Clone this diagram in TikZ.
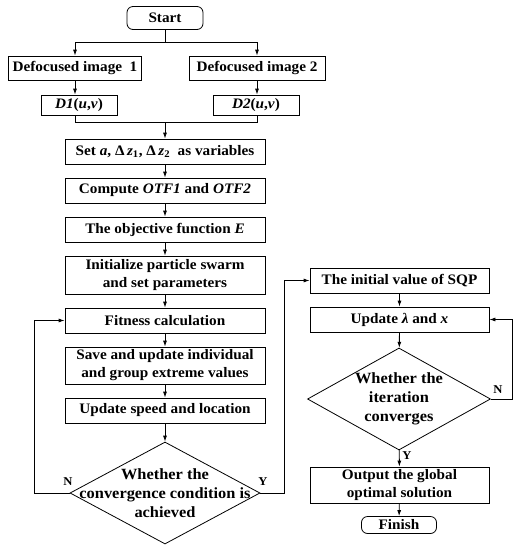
\documentclass[tikz,border=0pt]{standalone}
\usepackage{fontspec}
\setmainfont{Liberation Serif}[FakeStretch=1.05]
\usetikzlibrary{positioning, arrows.meta, shapes.geometric}

\tikzset{
  box/.style={draw, thick, inner sep=0pt, minimum height=25pt, align=center, font=\fontsize{14.5}{18}\selectfont\bfseries},
  roundbox/.style={box, rounded corners=6pt},
  decision/.style={draw, thick, diamond, inner sep=0pt, minimum width=190pt, minimum height=102pt},
  dtext/.style={align=center, font=\fontsize{15.6}{19}\selectfont\bfseries},
  flow/.style={thick, -{Latex[length=6pt, width=4pt]}},
  yn/.style={font=\fontsize{12}{14}\selectfont\bfseries}
}

\begin{document}
\begin{tikzpicture}[x=1pt, y=-1pt]
            \useasboundingbox (0,0) rectangle (518,550);
            % left column
            \node[roundbox, minimum width=76pt, minimum height=23pt] (start) at (165,18) {Start};
            \node[box, minimum width=133pt, minimum height=24pt] (def1) at (75,68) {Defocused image\ \ 1};
            \node[box, minimum width=136pt, minimum height=24pt] (def2) at (257,68) {Defocused image 2};
            \node[box, minimum width=76pt, minimum height=20pt] (d1) at (79,105) {\textit{D1}(\textit{u},\textit{v})};
            \node[box, minimum width=86pt, minimum height=20pt] (d2) at (256,105) {\textit{D2}(\textit{u},\textit{v})};
            \node[box, minimum width=200pt] (set) at (165,151.5) {Set \textit{a}, Δ\,\textit{z}\textsubscript{1}, Δ\,\textit{z}\textsubscript{2}\ \ as variables};
            \node[box, minimum width=200pt] (otf) at (165,190.5) {Compute \textit{OTF1} and \textit{OTF2}};
            \node[box, minimum width=200pt] (obj) at (165,229.5) {The objective function \textit{E}};
            \node[box, minimum width=200pt, minimum height=38pt] (init) at (165,275) {Initialize particle swarm\\and set parameters};
            \node[box, minimum width=200pt] (fit) at (165,320.5) {Fitness calculation};
            \node[box, minimum width=200pt, minimum height=37pt] (save) at (165,365.5) {Save and update individual\\and group extreme values};
            \node[box, minimum width=200pt] (speed) at (165,410.5) {Update speed and location};
            \node[decision] (conv) at (165,493) {};
            \node[dtext] (convtext) at (conv.center) {Whether the\\convergence condition is\\achieved};
            % right column
            \node[box, minimum width=179pt] (sqp) at (399.5,280.5) {The initial value of SQP};
            \node[box, minimum width=179pt] (upd) at (399.5,319.5) {Update \textit{λ} and \textit{x}};
            \node[decision, minimum width=183pt] (iter) at (399,399) {};
            \node[dtext] (itertext) at (iter.center) {Whether the\\iteration\\converges};
            \node[box, minimum width=179pt, minimum height=36pt] (out) at (399.5,485) {Output the global\\optimal solution};
            \node[roundbox, minimum width=75pt, minimum height=17pt] (fin) at (399,525) {Finish};

            \coordinate (split) at (165,42);
            \coordinate (merge) at (165,122);
            \coordinate (nleft) at (34,493);
            \coordinate (yright) at (284,493);
            \coordinate (nright) at (512,399);

            \draw[thick] (start) -- (split);
            \draw[flow] (split) -| (def1);
            \draw[flow] (split) -| (def2);
            \draw[flow] (def1) -- (def1 |- d1.north);
            \draw[flow] (def2) -- (def2 |- d2.north);
            \draw[thick] (d1.south -| def1) |- (merge);
            \draw[thick] (d2.south -| def2) |- (merge);
            \draw[flow] (merge) -- (set);
            \foreach \a/\b in {set/otf, otf/obj, obj/init, init/fit, fit/save, save/speed, speed/conv, sqp/upd, upd/iter, iter/out, out/fin}
            {
                \draw[flow] (\a) -- (\b);
            }
            \draw[flow] (conv.west) -- (nleft) |- (fit.west);
            \draw[flow] (conv.east) -- (yright) |- (sqp.west);
            \draw[flow] (iter.east) -- (nright) |- (upd.east);

            \node[yn] (nl) at (68,482) {N};
            \node[yn] (yl) at (263,482) {Y};
            \node[yn] (nr) at (498,390) {N};
            \node[yn] (yr) at (407,456) {Y};
        \end{tikzpicture}
\end{document}
